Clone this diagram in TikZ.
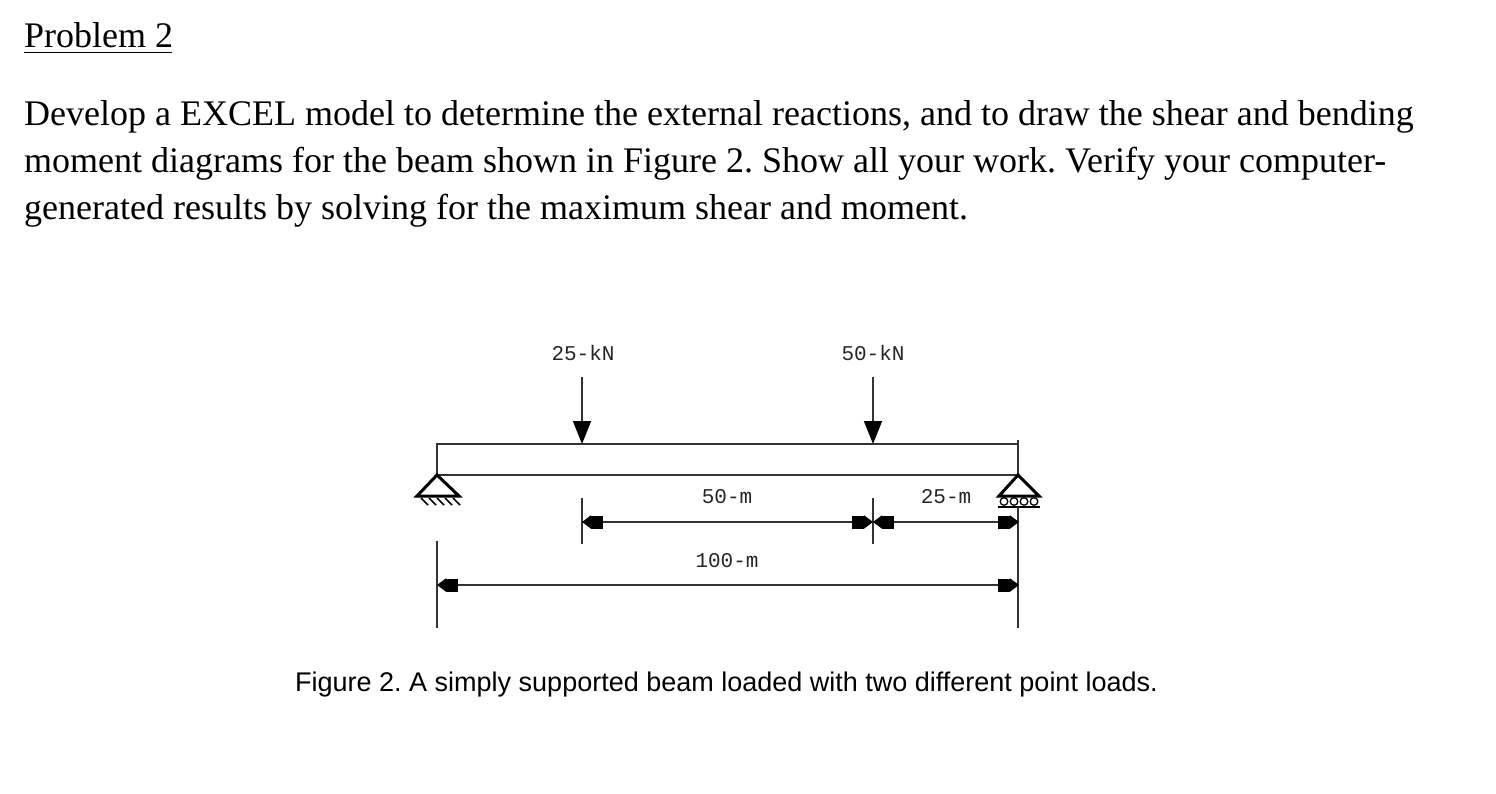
\documentclass[tikz,border=0pt]{standalone}
\usepackage{fontspec}
\setmainfont{Liberation Serif}
\setsansfont{Liberation Sans}
\setmonofont{Liberation Mono}
\usetikzlibrary{arrows.meta,positioning}

\tikzset{
  para/.style={anchor=base west,inner sep=0pt,font=\fontsize{36}{42}\selectfont},
  dimlabel/.style={inner sep=0pt,font=\ttfamily\fontsize{21}{24}\selectfont,black!85},
  beamline/.style={line width=2pt,black!80},
  thinline/.style={line width=1.7pt,black!80},
  support/.style={line width=3pt,black},
  load/.style={thinline,-{Triangle[length=23pt,width=18pt,black]}},
  dimarrow/.style={thinline,-{Rectangle[length=12pt,width=13pt,sep=0pt,black]Triangle[length=9pt,width=13pt,black]}}
}

\begin{document}
\begin{tikzpicture}[x=1pt,y=-1pt]
      \useasboundingbox[fill=white] (0,0) rectangle (1496,794);
      \frenchspacing

      \node[para] (title) at (24,48) {Problem 2};
      \node[para] (line1) at (24,126) {Develop a EXCEL model to determine the external reactions, and to draw the shear and bending};
      \node[para] (line2) at (24,173) {moment diagrams for the beam shown in Figure 2. Show all your work. Verify your computer-};
      \node[para] (line3) at (24,220) {generated results by solving for the maximum shear and moment.};
      \node[anchor=base west,inner sep=0pt,font=\sffamily\fontsize{27}{30}\selectfont] (caption) at (295,691) {Figure 2. A simply supported beam loaded with two different point loads.};
      \draw[line width=1.5pt] (24,52.5) -- (172,52.5);

      \coordinate (tl) at (437,444);
      \coordinate (tr) at (1018,444);
      \coordinate (bl) at (437,475);
      \coordinate (br) at (1018,475);
      \coordinate (trtop) at (1018,440);
      \coordinate (p1) at (582,444);
      \coordinate (p2) at (873,444);
      \coordinate (p1top) at (582,377);
      \coordinate (p2top) at (873,377);

      \draw[beamline] (bl) -- (tl) -- (tr);
      \draw[beamline] (bl) -- (br);
      \draw[beamline] (trtop) -- (br);

      \node[dimlabel] (load1) at (583,353) {25-kN};
      \node[dimlabel] (load2) at (873,353) {50-kN};
      \draw[load] (p1top) -- (p1);
      \draw[load] (p2top) -- (p2);

      % supports
      \draw[support,line join=miter] (417,496) -- (bl) -- (459,496) -- cycle;
      \foreach \x in {421,429,437,445,453}
        \draw[line width=1.7pt] (\x,498) -- (\x+7,505);
      \draw[support,line join=miter] (999,496) -- (br) -- (1039,496) -- cycle;
      \foreach \x in {1004,1014,1024,1034}
        \draw[line width=1.3pt] (\x,501.5) circle (3.8);
      \draw[line width=1.8pt] (998,507) -- (1040,507);

      % dimensions
      \coordinate (a1) at (582,498);
      \coordinate (a2) at (582,544);
      \coordinate (b1) at (873,498);
      \coordinate (b2) at (873,544);
      \coordinate (c1) at (437,541);
      \coordinate (c2) at (437,628);
      \coordinate (d1) at (1018,507);
      \coordinate (d2) at (1018,628);
      \draw[thinline] (a1) -- (a2);
      \draw[thinline] (b1) -- (b2);
      \draw[thinline] (c1) -- (c2);
      \draw[thinline] (d1) -- (d2);

      \coordinate (m1) at (582,522);
      \coordinate (m2) at (873,522);
      \coordinate (m3) at (1019,522);
      \coordinate (n1) at (437,585);
      \coordinate (n2) at (1019,585);
      \coordinate (mid) at (727,522);
      \coordinate (mid2) at (946,522);
      \coordinate (mid3) at (727,585);
      \draw[dimarrow] (mid) -- (m1);
      \draw[dimarrow] (mid) -- (m2);
      \draw[dimarrow] (mid2) -- (m2);
      \draw[dimarrow] (mid2) -- (m3);
      \draw[dimarrow] (mid3) -- (n1);
      \draw[dimarrow] (mid3) -- (n2);

      \node[dimlabel] (span1) at (727,497) {50-m};
      \node[dimlabel] (span2) at (946,497) {25-m};
      \node[dimlabel] (span3) at (727,561) {100-m};
\end{tikzpicture}
\end{document}
